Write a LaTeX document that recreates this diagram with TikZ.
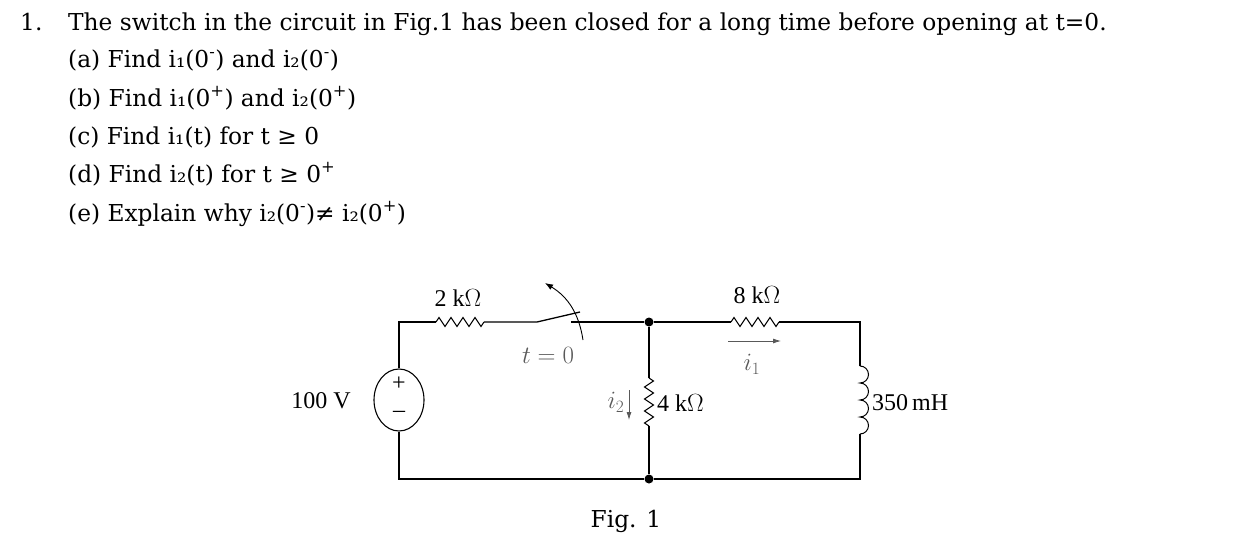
\documentclass[tikz,border=0pt]{standalone}
\usepackage{fontspec}
\setmainfont{Liberation Serif}
\newfontfamily\qfont{DejaVu Serif}
\usetikzlibrary{arrows.meta,decorations.pathmorphing,shapes.geometric}
\begin{document}
\begin{tikzpicture}[x=1pt,y=-1pt,
  q/.style={anchor=base west,inner sep=0,font=\qfont\fontsize{23.3}{26}\selectfont},
  lab/.style={inner sep=0,font=\fontsize{24}{26}\selectfont},
  wire/.style={line width=1.3pt},
  res/.style={line width=1pt,decorate,decoration={zigzag,segment length=12pt,amplitude=4.5pt}},
  dot/.style={circle,fill,inner sep=0,minimum size=9pt},
  cur/.style={-{Latex[length=8pt,width=5pt]},line width=0.8pt,gray!70!black}]
\useasboundingbox (0,0) rectangle (1247,546);
\node[q] (n1) at (20,30) {1.};
\node[q] (l0) at (68,30) {The switch in the circuit in Fig.1 has been closed for a long time before opening at t=0.};
\node[q] (la) at (68,67) {(a) Find i₁(0\textsuperscript{-}) and i₂(0\textsuperscript{-})};
\node[q] (lb) at (68,106) {(b) Find i₁(0\textsuperscript{+}) and i₂(0\textsuperscript{+})};
\node[q] (lc) at (68,144) {(c) Find i₁(t) for t ≥ 0};
\node[q] (ld) at (68,182) {(d) Find i₂(t) for t ≥ 0\textsuperscript{+}};
\node[q] (le) at (68,221) {(e) Explain why i₂(0\textsuperscript{-})≠ i₂(0\textsuperscript{+})};
% circuit
\coordinate (tl) at (399,322);
\coordinate (bl) at (399,479);
\coordinate (r1a) at (436,322);
\coordinate (r1b) at (484,322);
\coordinate (sw1) at (537,322);
\coordinate (sw2) at (571,322);
\node[dot] (j1) at (649,322) {};
\node[dot] (j2) at (649,479) {};
\coordinate (r3a) at (649,378);
\coordinate (r3b) at (649,426);
\coordinate (r2a) at (731,322);
\coordinate (r2b) at (779,322);
\coordinate (tr) at (860,322);
\coordinate (br) at (860,479);
\coordinate (la1) at (860,366);
\coordinate (la2) at (860,434);
\node[draw,line width=1.1pt,ellipse,minimum width=50pt,minimum height=62pt,inner sep=0] (src) at (399,400) {};
\draw[wire] (src.south) -- (bl) -- (j2) -- (br) -- (la2);
\draw[wire] (src.north) -- (tl) -- (r1a);
\draw[res] (r1a) -- (r1b);
\draw[wire] (r1b) -- (sw1) -- (580,312);
\draw[wire] (sw2) -- (j1) -- (r2a);
\draw[res] (r2a) -- (r2b);
\draw[wire] (r2b) -- (tr) -- (la1);
\draw[line width=1pt] (la1) \foreach \k in {1,...,4}{ arc[start angle=90,end angle=-90,radius=8.5pt] };
\draw[wire] (j1) -- (r3a);
\draw[res] (r3a) -- (r3b);
\draw[wire] (r3b) -- (j2);
\draw[-{Latex[length=8pt,width=6pt]},line width=0.9pt] (583,340) to[bend right=25] (545,283);
\node[lab] (plus) at (399,384) {+};
\node[lab] (minus) at (399,414) {--};
\node[lab,anchor=east] (v) at (351,401) {100 V};
\node[lab] (t1) at (458,298) {2 k$\Omega$};
\node[lab] (t2) at (757,295) {8 k$\Omega$};
\node[lab,anchor=west] (t3) at (657,403) {4 k$\Omega$};
\node[lab,anchor=west] (t4) at (872,403) {350\,mH};
\node[lab,gray!70!black] (t0) at (548,355) {$t = 0$};
\draw[cur] (728,341) -- (781,341);
\node[lab,gray!70!black] (i1) at (752,364) {$i_1$};
\draw[cur] (629,390) -- (629,420);
\node[lab,gray!70!black] (i2) at (616,402) {$i_2$};
\node[q,anchor=base] (fig) at (626,527) {Fig. 1};
\end{tikzpicture}
\end{document}
